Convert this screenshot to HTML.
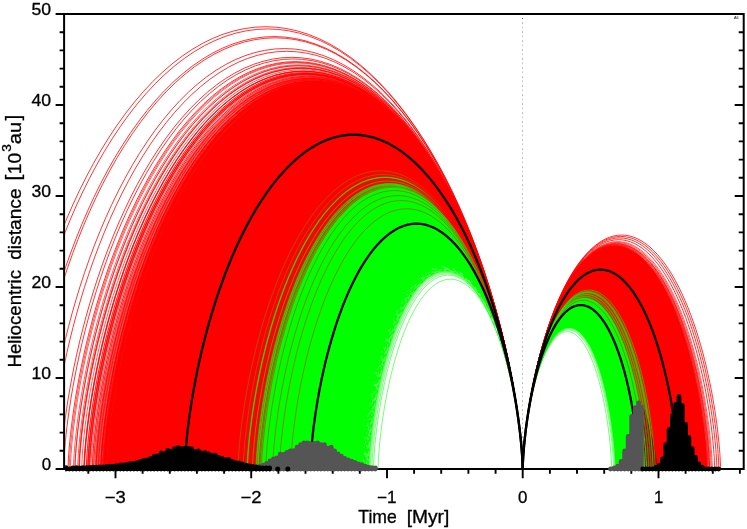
<!DOCTYPE html>
<html lang="en"><head><meta charset="utf-8"><title>Heliocentric distance vs time</title>
<style>html,body{margin:0;padding:0;background:#fff}svg{display:block}</style></head>
<body>
<svg width="747" height="529" viewBox="0 0 747 529">
<defs><path id="c" d="M0.00000,0.00000 0.00001,0.00107 0.00006,0.00428 0.00020,0.00961 0.00047,0.01704 0.00092,0.02653 0.00159,0.03806 0.00252,0.05156 0.00376,0.06699 0.00533,0.08427 0.00728,0.10332 0.00965,0.12408 0.01246,0.14645 0.01576,0.17033 0.01957,0.19562 0.02392,0.22221 0.02883,0.25000 0.03434,0.27886 0.04046,0.30866 0.04721,0.33928 0.05460,0.37059 0.06265,0.40245 0.07137,0.43474 0.08077,0.46730 0.09085,0.50000 0.10160,0.53270 0.11304,0.56526 0.12515,0.59755 0.13793,0.62941 0.15137,0.66072 0.16546,0.69134 0.18017,0.72114 0.19550,0.75000 0.21142,0.77779 0.22790,0.80438 0.24492,0.82967 0.26246,0.85355 0.28048,0.87592 0.29895,0.89668 0.31783,0.91573 0.33709,0.93301 0.35669,0.94844 0.37659,0.96194 0.39676,0.97347 0.41714,0.98296 0.43770,0.99039 0.45839,0.99572 0.47917,0.99893 0.50000,1.00000 0.52083,0.99893 0.54161,0.99572 0.56230,0.99039 0.58286,0.98296 0.60324,0.97347 0.62341,0.96194 0.64331,0.94844 0.66291,0.93301 0.68217,0.91573 0.70105,0.89668 0.71952,0.87592 0.73754,0.85355 0.75508,0.82967 0.77210,0.80438 0.78858,0.77779 0.80450,0.75000 0.81983,0.72114 0.83454,0.69134 0.84863,0.66072 0.86207,0.62941 0.87485,0.59755 0.88696,0.56526 0.89840,0.53270 0.90915,0.50000 0.91923,0.46730 0.92863,0.43474 0.93735,0.40245 0.94540,0.37059 0.95279,0.33928 0.95954,0.30866 0.96566,0.27886 0.97117,0.25000 0.97608,0.22221 0.98043,0.19562 0.98424,0.17033 0.98754,0.14645 0.99035,0.12408 0.99272,0.10332 0.99467,0.08427 0.99624,0.06699 0.99748,0.05156 0.99841,0.03806 0.99908,0.02653 0.99953,0.01704 0.99980,0.00961 0.99994,0.00428 0.99999,0.00107 1.00000,0.00000" vector-effect="non-scaling-stroke"/>
<linearGradient id="fg" gradientUnits="userSpaceOnUse" x1="400" y1="0" x2="446" y2="0"><stop offset="0" stop-color="#fff"/><stop offset="1" stop-color="#000"/></linearGradient>
<mask id="gl" maskUnits="userSpaceOnUse" x="0" y="0" width="747" height="529"><rect width="747" height="529" fill="url(#fg)"/></mask>
<clipPath id="fl"><path d="M643.7,404 L653,441 L657.5,462 L657.5,468 L643.7,468Z"/></clipPath>
<clipPath id="cp"><rect x="65.1" y="15.0" width="677.6" height="458.0"/></clipPath></defs>
<rect width="747" height="529" fill="#fff"/>
<rect x="64.1" y="14.0" width="679.6" height="455.0" fill="none" stroke="#000" stroke-width="2"/>
<path d="M88.3,469.0 v4.8 M115.5,469.0 v9.3 M142.6,469.0 v4.8 M169.8,469.0 v4.8 M196.9,469.0 v4.8 M224.1,469.0 v4.8 M251.2,469.0 v9.3 M278.4,469.0 v4.8 M305.5,469.0 v4.8 M332.7,469.0 v4.8 M359.8,469.0 v4.8 M387.0,469.0 v9.3 M414.1,469.0 v4.8 M441.2,469.0 v4.8 M468.4,469.0 v4.8 M495.6,469.0 v4.8 M522.7,469.0 v9.3 M549.9,469.0 v4.8 M577.0,469.0 v4.8 M604.2,469.0 v4.8 M631.3,469.0 v4.8 M658.5,469.0 v9.3 M685.6,469.0 v4.8 M712.8,469.0 v4.8 M739.9,469.0 v4.8 M64.1,469.0 h-8.5 M64.1,450.8 h-4.5 M743.7,450.8 h-5.0 M64.1,432.6 h-4.5 M743.7,432.6 h-5.0 M64.1,414.4 h-4.5 M743.7,414.4 h-5.0 M64.1,396.2 h-4.5 M743.7,396.2 h-5.0 M64.1,378.0 h-8.5 M743.7,378.0 h-9.0 M64.1,359.8 h-4.5 M743.7,359.8 h-5.0 M64.1,341.6 h-4.5 M743.7,341.6 h-5.0 M64.1,323.4 h-4.5 M743.7,323.4 h-5.0 M64.1,305.2 h-4.5 M743.7,305.2 h-5.0 M64.1,287.0 h-8.5 M743.7,287.0 h-9.0 M64.1,268.8 h-4.5 M743.7,268.8 h-5.0 M64.1,250.6 h-4.5 M743.7,250.6 h-5.0 M64.1,232.4 h-4.5 M743.7,232.4 h-5.0 M64.1,214.2 h-4.5 M743.7,214.2 h-5.0 M64.1,196.0 h-8.5 M743.7,196.0 h-9.0 M64.1,177.8 h-4.5 M743.7,177.8 h-5.0 M64.1,159.6 h-4.5 M743.7,159.6 h-5.0 M64.1,141.4 h-4.5 M743.7,141.4 h-5.0 M64.1,123.2 h-4.5 M743.7,123.2 h-5.0 M64.1,105.0 h-8.5 M743.7,105.0 h-9.0 M64.1,86.8 h-4.5 M743.7,86.8 h-5.0 M64.1,68.6 h-4.5 M743.7,68.6 h-5.0 M64.1,50.4 h-4.5 M743.7,50.4 h-5.0 M64.1,32.2 h-4.5 M743.7,32.2 h-5.0 M64.1,14.0 h-8.5" stroke="#000" stroke-width="1.9" fill="none"/>
<path d="M522.5,18.0 V469.0" stroke="#505050" stroke-width="1" stroke-dasharray="1 3.5" fill="none"/>
<path d="M522.5,22.0 V469.0" stroke="#c4c4c4" stroke-width="1" stroke-dasharray="1.6 2.9" fill="none"/>
<g clip-path="url(#cp)">
<g fill="#f00" stroke="#f00" stroke-width="0.6"><path d="M522.7,469.0 522.7,468.7 522.7,468.0 522.7,466.6 522.6,464.8 522.5,462.5 522.4,459.6 522.2,456.3 521.9,452.5 521.6,448.1 521.1,443.4 520.6,438.1 520.0,432.5 519.3,426.4 518.5,419.9 517.5,413.0 516.5,405.7 515.3,398.1 513.9,390.1 512.4,381.9 510.8,373.3 509.0,364.5 507.0,355.5 504.9,346.2 502.6,336.8 500.1,327.2 497.5,317.5 494.6,307.6 491.6,297.7 488.5,287.7 485.1,277.7 481.6,267.7 477.8,257.7 473.9,247.7 469.9,237.9 465.6,228.2 461.2,218.5 456.6,209.1 451.8,199.9 446.9,190.8 441.8,182.0 436.5,173.5 431.1,165.2 425.6,157.3 419.9,149.6 414.1,142.4 408.1,135.5 402.1,129.0 395.9,122.9 389.6,117.2 383.2,112.0 376.7,107.2 370.2,102.9 363.5,99.1 356.8,95.7 350.1,92.9 343.3,90.5 336.4,88.7 329.6,87.4 322.7,86.6 315.8,86.3 308.9,86.6 302.0,87.4 295.1,88.7 288.3,90.5 281.5,92.9 274.7,95.7 268.0,99.1 261.4,102.9 254.8,107.2 248.4,112.0 242.0,117.2 235.7,122.9 229.5,129.0 223.4,135.5 217.5,142.4 211.6,149.6 206.0,157.3 200.4,165.2 195.0,173.5 189.8,182.0 184.7,190.8 179.7,199.9 175.0,209.1 170.4,218.5 165.9,228.2 161.7,237.9 157.6,247.7 153.7,257.7 150.0,267.7 146.4,277.7 143.1,287.7 139.9,297.7 136.9,307.6 134.1,317.5 131.4,327.2 129.0,336.8 126.7,346.2 124.5,355.5 122.6,364.5 120.8,373.3 119.1,381.9 117.6,390.1 116.3,398.1 115.1,405.7 114.0,413.0 113.1,419.9 112.2,426.4 111.5,432.5 110.9,438.1 110.4,443.4 110.0,448.1 109.6,452.5 109.4,456.3 109.2,459.6 109.0,462.5 108.9,464.8 108.9,466.6 108.9,468.0 108.9,468.7 108.8,469.0 325.9,469.0 325.9,468.8 325.9,468.4 325.9,467.6 325.9,466.5 326.0,465.0 326.0,463.3 326.1,461.3 326.2,458.9 326.4,456.3 326.6,453.4 326.8,450.2 327.1,446.7 327.5,443.0 327.9,439.1 328.3,434.9 328.8,430.4 329.4,425.8 330.0,420.9 330.8,415.9 331.5,410.7 332.4,405.3 333.3,399.8 334.3,394.2 335.4,388.4 336.6,382.6 337.9,376.7 339.2,370.7 340.6,364.6 342.1,358.5 343.7,352.4 345.4,346.3 347.2,340.2 349.1,334.2 351.0,328.2 353.0,322.2 355.1,316.4 357.3,310.6 359.6,305.0 361.9,299.5 364.3,294.1 366.8,288.9 369.4,283.9 372.0,279.1 374.8,274.4 377.5,270.0 380.4,265.8 383.2,261.8 386.2,258.1 389.2,254.6 392.2,251.5 395.3,248.5 398.4,245.9 401.6,243.6 404.8,241.5 408.0,239.8 411.2,238.4 414.5,237.3 417.7,236.5 421.0,236.0 424.3,235.8 427.6,236.0 430.8,236.5 434.1,237.3 437.4,238.4 440.6,239.8 443.8,241.5 447.0,243.6 450.1,245.9 453.3,248.5 456.3,251.5 459.4,254.6 462.4,258.1 465.3,261.8 468.2,265.8 471.0,270.0 473.8,274.4 476.5,279.1 479.2,283.9 481.7,288.9 484.2,294.1 486.6,299.5 489.0,305.0 491.3,310.6 493.4,316.4 495.5,322.2 497.6,328.2 499.5,334.2 501.4,340.2 503.1,346.3 504.8,352.4 506.4,358.5 507.9,364.6 509.4,370.7 510.7,376.7 512.0,382.6 513.1,388.4 514.2,394.2 515.2,399.8 516.2,405.3 517.0,410.7 517.8,415.9 518.5,420.9 519.2,425.8 519.7,430.4 520.2,434.9 520.7,439.1 521.1,443.0 521.4,446.7 521.7,450.2 522.0,453.4 522.2,456.3 522.3,458.9 522.4,461.3 522.5,463.3 522.6,465.0 522.7,466.5 522.7,467.6 522.7,468.4 522.7,468.8 522.7,469.0Z"/><path d="M522.7,469.0 522.7,468.8 522.7,468.4 522.7,467.6 522.7,466.6 522.8,465.2 522.9,463.5 522.9,461.6 523.1,459.4 523.2,456.8 523.4,454.1 523.6,451.0 523.9,447.7 524.2,444.1 524.6,440.3 525.0,436.3 525.5,432.1 526.0,427.6 526.6,423.0 527.3,418.2 528.0,413.2 528.8,408.1 529.7,402.8 530.6,397.4 531.7,391.9 532.8,386.3 533.9,380.6 535.2,374.9 536.5,369.1 537.9,363.3 539.4,357.4 541.0,351.6 542.7,345.8 544.4,340.0 546.2,334.2 548.1,328.6 550.1,323.0 552.1,317.5 554.3,312.1 556.5,306.8 558.7,301.7 561.1,296.7 563.5,291.9 565.9,287.2 568.5,282.8 571.1,278.5 573.7,274.5 576.4,270.7 579.2,267.2 582.0,263.9 584.8,260.8 587.7,258.0 590.6,255.5 593.6,253.3 596.6,251.3 599.6,249.7 602.6,248.3 605.6,247.2 608.7,246.5 611.8,246.0 614.8,245.9 617.9,246.0 621.0,246.5 624.0,247.2 627.1,248.3 630.1,249.7 633.1,251.3 636.1,253.3 639.1,255.5 642.0,258.0 644.9,260.8 647.7,263.9 650.5,267.2 653.3,270.7 656.0,274.5 658.6,278.5 661.2,282.8 663.7,287.2 666.2,291.9 668.6,296.7 671.0,301.7 673.2,306.8 675.4,312.1 677.5,317.5 679.6,323.0 681.6,328.6 683.5,334.2 685.3,340.0 687.0,345.8 688.7,351.6 690.2,357.4 691.7,363.3 693.1,369.1 694.5,374.9 695.7,380.6 696.9,386.3 698.0,391.9 699.0,397.4 700.0,402.8 700.9,408.1 701.7,413.2 702.4,418.2 703.1,423.0 703.7,427.6 704.2,432.1 704.7,436.3 705.1,440.3 705.5,444.1 705.8,447.7 706.1,451.0 706.3,454.1 706.5,456.8 706.6,459.4 706.7,461.6 706.8,463.5 706.9,465.2 706.9,466.6 707.0,467.6 707.0,468.4 707.0,468.8 707.0,469.0 631.3,469.0 631.3,468.9 631.3,468.6 631.3,468.0 631.3,467.3 631.2,466.3 631.2,465.2 631.2,463.8 631.1,462.2 631.0,460.5 630.9,458.5 630.8,456.3 630.6,454.0 630.4,451.5 630.2,448.9 629.9,446.0 629.7,443.1 629.3,439.9 629.0,436.7 628.6,433.3 628.2,429.8 627.7,426.2 627.2,422.5 626.6,418.7 626.0,414.8 625.4,410.9 624.7,406.9 623.9,402.8 623.1,398.8 622.3,394.7 621.4,390.6 620.5,386.5 619.5,382.4 618.5,378.3 617.4,374.3 616.3,370.3 615.2,366.3 614.0,362.5 612.7,358.7 611.4,355.0 610.1,351.4 608.7,347.9 607.3,344.5 605.8,341.2 604.3,338.1 602.8,335.1 601.2,332.3 599.6,329.6 598.0,327.1 596.4,324.8 594.7,322.7 593.0,320.7 591.3,318.9 589.5,317.4 587.8,316.0 586.0,314.8 584.2,313.9 582.4,313.1 580.6,312.6 578.8,312.3 577.0,312.2 575.2,312.3 573.4,312.6 571.6,313.1 569.8,313.9 568.0,314.8 566.2,316.0 564.5,317.4 562.7,318.9 561.0,320.7 559.3,322.7 557.6,324.8 556.0,327.1 554.4,329.6 552.8,332.3 551.2,335.1 549.7,338.1 548.2,341.2 546.7,344.5 545.3,347.9 543.9,351.4 542.6,355.0 541.3,358.7 540.0,362.5 538.8,366.3 537.7,370.3 536.6,374.3 535.5,378.3 534.5,382.4 533.5,386.5 532.6,390.6 531.7,394.7 530.9,398.8 530.1,402.8 529.3,406.9 528.6,410.9 528.0,414.8 527.4,418.7 526.8,422.5 526.3,426.2 525.8,429.8 525.4,433.3 525.0,436.7 524.7,439.9 524.3,443.1 524.1,446.0 523.8,448.9 523.6,451.5 523.4,454.0 523.2,456.3 523.1,458.5 523.0,460.5 522.9,462.2 522.8,463.8 522.8,465.2 522.8,466.3 522.7,467.3 522.7,468.0 522.7,468.6 522.7,468.9 522.7,469.0Z"/></g>
<g fill="none" stroke="#f00" stroke-width="0.65"><use href="#c" transform="matrix(-411.79 0 0 -381.38 522.7 469)"/><use href="#c" transform="matrix(-411.83 0 0 -381.41 522.7 469)"/><use href="#c" transform="matrix(-412.27 0 0 -381.68 522.7 469)"/><use href="#c" transform="matrix(-412.72 0 0 -381.95 522.7 469)"/><use href="#c" transform="matrix(-412.83 0 0 -382.03 522.7 469)"/><use href="#c" transform="matrix(-413.03 0 0 -382.15 522.7 469)"/><use href="#c" transform="matrix(-413.08 0 0 -382.18 522.7 469)"/><use href="#c" transform="matrix(-413.13 0 0 -382.21 522.7 469)"/><use href="#c" transform="matrix(-413.19 0 0 -382.25 522.7 469)"/><use href="#c" transform="matrix(-413.42 0 0 -382.39 522.7 469)"/><use href="#c" transform="matrix(-413.46 0 0 -382.42 522.7 469)"/><use href="#c" transform="matrix(-413.95 0 0 -382.71 522.7 469)"/><use href="#c" transform="matrix(-413.96 0 0 -382.72 522.7 469)"/><use href="#c" transform="matrix(-414.00 0 0 -382.75 522.7 469)"/><use href="#c" transform="matrix(-414.02 0 0 -382.76 522.7 469)"/><use href="#c" transform="matrix(-414.32 0 0 -382.94 522.7 469)"/><use href="#c" transform="matrix(-414.41 0 0 -383.00 522.7 469)"/><use href="#c" transform="matrix(-414.54 0 0 -383.08 522.7 469)"/><use href="#c" transform="matrix(-414.62 0 0 -383.13 522.7 469)"/><use href="#c" transform="matrix(-414.83 0 0 -383.26 522.7 469)"/><use href="#c" transform="matrix(-414.94 0 0 -383.33 522.7 469)"/><use href="#c" transform="matrix(-414.99 0 0 -383.36 522.7 469)"/><use href="#c" transform="matrix(-415.11 0 0 -383.43 522.7 469)"/><use href="#c" transform="matrix(-415.19 0 0 -383.48 522.7 469)"/><use href="#c" transform="matrix(-415.21 0 0 -383.49 522.7 469)"/><use href="#c" transform="matrix(-415.58 0 0 -383.72 522.7 469)"/><use href="#c" transform="matrix(-415.83 0 0 -383.88 522.7 469)"/><use href="#c" transform="matrix(-416.08 0 0 -384.03 522.7 469)"/><use href="#c" transform="matrix(-416.56 0 0 -384.32 522.7 469)"/><use href="#c" transform="matrix(-416.68 0 0 -384.39 522.7 469)"/><use href="#c" transform="matrix(-416.79 0 0 -384.46 522.7 469)"/><use href="#c" transform="matrix(-416.92 0 0 -384.54 522.7 469)"/><use href="#c" transform="matrix(-417.04 0 0 -384.62 522.7 469)"/><use href="#c" transform="matrix(-417.31 0 0 -384.78 522.7 469)"/><use href="#c" transform="matrix(-417.31 0 0 -384.78 522.7 469)"/><use href="#c" transform="matrix(-417.46 0 0 -384.88 522.7 469)"/><use href="#c" transform="matrix(-417.65 0 0 -384.99 522.7 469)"/><use href="#c" transform="matrix(-417.75 0 0 -385.06 522.7 469)"/><use href="#c" transform="matrix(-417.76 0 0 -385.06 522.7 469)"/><use href="#c" transform="matrix(-418.06 0 0 -385.25 522.7 469)"/><use href="#c" transform="matrix(-418.06 0 0 -385.25 522.7 469)"/><use href="#c" transform="matrix(-418.28 0 0 -385.38 522.7 469)"/><use href="#c" transform="matrix(-418.32 0 0 -385.40 522.7 469)"/><use href="#c" transform="matrix(-418.33 0 0 -385.41 522.7 469)"/><use href="#c" transform="matrix(-418.38 0 0 -385.44 522.7 469)"/><use href="#c" transform="matrix(-418.40 0 0 -385.45 522.7 469)"/><use href="#c" transform="matrix(-418.44 0 0 -385.48 522.7 469)"/><use href="#c" transform="matrix(-418.74 0 0 -385.66 522.7 469)"/><use href="#c" transform="matrix(-419.09 0 0 -385.87 522.7 469)"/><use href="#c" transform="matrix(-419.21 0 0 -385.95 522.7 469)"/><use href="#c" transform="matrix(-419.49 0 0 -386.13 522.7 469)"/><use href="#c" transform="matrix(-419.67 0 0 -386.24 522.7 469)"/><use href="#c" transform="matrix(-419.87 0 0 -386.35 522.7 469)"/><use href="#c" transform="matrix(-420.46 0 0 -386.72 522.7 469)"/><use href="#c" transform="matrix(-420.57 0 0 -386.78 522.7 469)"/><use href="#c" transform="matrix(-421.17 0 0 -387.15 522.7 469)"/><use href="#c" transform="matrix(-421.53 0 0 -387.37 522.7 469)"/><use href="#c" transform="matrix(-421.89 0 0 -387.59 522.7 469)"/><use href="#c" transform="matrix(-421.89 0 0 -387.59 522.7 469)"/><use href="#c" transform="matrix(-421.92 0 0 -387.61 522.7 469)"/><use href="#c" transform="matrix(-421.93 0 0 -387.62 522.7 469)"/><use href="#c" transform="matrix(-422.06 0 0 -387.70 522.7 469)"/><use href="#c" transform="matrix(-422.87 0 0 -388.19 522.7 469)"/><use href="#c" transform="matrix(-423.58 0 0 -388.63 522.7 469)"/><use href="#c" transform="matrix(-424.22 0 0 -389.02 522.7 469)"/><use href="#c" transform="matrix(-424.27 0 0 -389.05 522.7 469)"/><use href="#c" transform="matrix(-424.72 0 0 -389.32 522.7 469)"/><use href="#c" transform="matrix(-425.28 0 0 -389.67 522.7 469)"/><use href="#c" transform="matrix(-425.93 0 0 -390.06 522.7 469)"/><use href="#c" transform="matrix(-426.56 0 0 -390.45 522.7 469)"/><use href="#c" transform="matrix(-426.63 0 0 -390.49 522.7 469)"/><use href="#c" transform="matrix(-426.71 0 0 -390.54 522.7 469)"/><use href="#c" transform="matrix(-427.38 0 0 -390.95 522.7 469)"/><use href="#c" transform="matrix(-427.97 0 0 -391.31 522.7 469)"/><use href="#c" transform="matrix(-428.99 0 0 -391.93 522.7 469)"/><use href="#c" transform="matrix(-429.28 0 0 -392.11 522.7 469)"/><use href="#c" transform="matrix(-430.37 0 0 -392.77 522.7 469)"/><use href="#c" transform="matrix(-430.45 0 0 -392.82 522.7 469)"/><use href="#c" transform="matrix(-431.77 0 0 -393.62 522.7 469)"/><use href="#c" transform="matrix(-433.01 0 0 -394.37 522.7 469)"/><use href="#c" transform="matrix(-433.26 0 0 -394.53 522.7 469)"/><use href="#c" transform="matrix(-433.30 0 0 -394.55 522.7 469)"/><use href="#c" transform="matrix(-433.80 0 0 -394.86 522.7 469)"/><use href="#c" transform="matrix(-434.56 0 0 -395.31 522.7 469)"/><use href="#c" transform="matrix(-434.85 0 0 -395.49 522.7 469)"/><use href="#c" transform="matrix(-434.89 0 0 -395.51 522.7 469)"/><use href="#c" transform="matrix(-435.11 0 0 -395.65 522.7 469)"/><use href="#c" transform="matrix(-436.33 0 0 -396.39 522.7 469)"/><use href="#c" transform="matrix(-436.40 0 0 -396.43 522.7 469)"/><use href="#c" transform="matrix(-438.28 0 0 -397.57 522.7 469)"/><use href="#c" transform="matrix(-438.52 0 0 -397.71 522.7 469)"/><use href="#c" transform="matrix(-438.71 0 0 -397.83 522.7 469)"/><use href="#c" transform="matrix(-438.81 0 0 -397.89 522.7 469)"/><use href="#c" transform="matrix(-440.98 0 0 -399.20 522.7 469)"/><use href="#c" transform="matrix(-443.25 0 0 -400.57 522.7 469)"/><use href="#c" transform="matrix(-443.68 0 0 -400.83 522.7 469)"/><use href="#c" transform="matrix(-443.80 0 0 -400.90 522.7 469)"/><use href="#c" transform="matrix(-445.03 0 0 -401.64 522.7 469)"/><use href="#c" transform="matrix(-447.75 0 0 -403.27 522.7 469)"/><use href="#c" transform="matrix(-447.76 0 0 -403.28 522.7 469)"/><use href="#c" transform="matrix(-449.23 0 0 -404.16 522.7 469)"/><use href="#c" transform="matrix(-452.32 0 0 -406.01 522.7 469)"/><use href="#c" transform="matrix(-453.48 0 0 -406.71 522.7 469)"/><use href="#c" transform="matrix(183.56 0 0 -222.55 522.7 469)"/><use href="#c" transform="matrix(183.98 0 0 -222.89 522.7 469)"/><use href="#c" transform="matrix(184.07 0 0 -222.96 522.7 469)"/><use href="#c" transform="matrix(184.69 0 0 -223.46 522.7 469)"/><use href="#c" transform="matrix(185.22 0 0 -223.89 522.7 469)"/><use href="#c" transform="matrix(185.52 0 0 -224.14 522.7 469)"/><use href="#c" transform="matrix(186.18 0 0 -224.66 522.7 469)"/><use href="#c" transform="matrix(186.84 0 0 -225.19 522.7 469)"/><use href="#c" transform="matrix(186.88 0 0 -225.23 522.7 469)"/><use href="#c" transform="matrix(187.58 0 0 -225.79 522.7 469)"/><use href="#c" transform="matrix(188.62 0 0 -226.62 522.7 469)"/><use href="#c" transform="matrix(189.62 0 0 -227.42 522.7 469)"/></g>
<g fill="none" stroke="#f00" stroke-width="0.8"><use href="#c" transform="matrix(-514.22 0 0 -442.26 522.7 469)"/><use href="#c" transform="matrix(-510.42 0 0 -440.08 522.7 469)"/><use href="#c" transform="matrix(-497.18 0 0 -432.43 522.7 469)"/><use href="#c" transform="matrix(-494.98 0 0 -431.16 522.7 469)"/><use href="#c" transform="matrix(-476.60 0 0 -420.42 522.7 469)"/><use href="#c" transform="matrix(-471.97 0 0 -417.69 522.7 469)"/><use href="#c" transform="matrix(-461.83 0 0 -411.68 522.7 469)"/><use href="#c" transform="matrix(-459.07 0 0 -410.05 522.7 469)"/><use href="#c" transform="matrix(-454.65 0 0 -407.41 522.7 469)"/><use href="#c" transform="matrix(192.00 0 0 -229.32 522.7 469)"/><use href="#c" transform="matrix(194.17 0 0 -231.05 522.7 469)"/><use href="#c" transform="matrix(196.13 0 0 -232.60 522.7 469)"/><use href="#c" transform="matrix(197.86 0 0 -233.96 522.7 469)"/></g>
<g fill="#0f0" stroke="#0f0" stroke-width="0.6"><path d="M522.7,469.0 522.7,468.8 522.7,468.2 522.7,467.3 522.6,465.9 522.6,464.2 522.5,462.1 522.4,459.7 522.2,456.8 522.0,453.7 521.7,450.2 521.4,446.3 521.0,442.1 520.6,437.7 520.0,432.9 519.5,427.8 518.8,422.5 518.0,416.9 517.2,411.0 516.2,405.0 515.2,398.7 514.0,392.2 512.8,385.6 511.5,378.8 510.0,371.9 508.5,364.8 506.8,357.6 505.0,350.4 503.1,343.1 501.1,335.8 499.0,328.4 496.8,321.0 494.4,313.7 492.0,306.4 489.4,299.2 486.7,292.0 484.0,285.0 481.1,278.0 478.1,271.2 474.9,264.6 471.7,258.1 468.4,251.8 465.0,245.8 461.5,239.9 457.9,234.3 454.3,229.0 450.5,223.9 446.7,219.1 442.8,214.7 438.8,210.5 434.8,206.6 430.7,203.1 426.6,200.0 422.4,197.1 418.2,194.7 414.0,192.6 409.7,190.9 405.4,189.5 401.0,188.6 396.7,188.0 392.4,187.8 388.0,188.0 383.7,188.6 379.3,189.5 375.0,190.9 370.8,192.6 366.5,194.7 362.3,197.1 358.1,200.0 354.0,203.1 349.9,206.6 345.9,210.5 341.9,214.7 338.0,219.1 334.2,223.9 330.4,229.0 326.8,234.3 323.2,239.9 319.7,245.8 316.3,251.8 313.0,258.1 309.8,264.6 306.7,271.2 303.7,278.0 300.8,285.0 298.0,292.0 295.3,299.2 292.7,306.4 290.3,313.7 287.9,321.0 285.7,328.4 283.6,335.8 281.6,343.1 279.7,350.4 277.9,357.6 276.2,364.8 274.7,371.9 273.2,378.8 271.9,385.6 270.7,392.2 269.5,398.7 268.5,405.0 267.5,411.0 266.7,416.9 265.9,422.5 265.3,427.8 264.7,432.9 264.1,437.7 263.7,442.1 263.3,446.3 263.0,450.2 262.7,453.7 262.5,456.8 262.3,459.7 262.2,462.1 262.1,464.2 262.1,465.9 262.0,467.3 262.0,468.2 262.0,468.8 262.0,469.0 368.7,469.0 368.7,468.9 368.8,468.5 368.8,467.8 368.8,466.8 368.8,465.6 368.9,464.2 368.9,462.4 369.0,460.4 369.2,458.2 369.3,455.7 369.5,453.0 369.7,450.1 370.0,446.9 370.3,443.6 370.7,440.0 371.1,436.3 371.5,432.3 372.0,428.2 372.6,423.9 373.2,419.5 373.9,415.0 374.6,410.3 375.4,405.5 376.2,400.6 377.2,395.7 378.1,390.6 379.2,385.5 380.3,380.4 381.5,375.2 382.7,370.0 384.1,364.9 385.4,359.7 386.9,354.6 388.4,349.5 390.0,344.4 391.6,339.5 393.3,334.6 395.1,329.8 397.0,325.1 398.8,320.6 400.8,316.1 402.8,311.9 404.9,307.8 407.0,303.8 409.2,300.1 411.4,296.5 413.6,293.1 415.9,290.0 418.3,287.0 420.6,284.3 423.1,281.9 425.5,279.6 428.0,277.6 430.5,275.9 433.0,274.4 435.5,273.2 438.0,272.3 440.6,271.6 443.2,271.2 445.7,271.1 448.3,271.2 450.9,271.6 453.4,272.3 456.0,273.2 458.5,274.4 461.0,275.9 463.5,277.6 466.0,279.6 468.4,281.9 470.8,284.3 473.2,287.0 475.5,290.0 477.8,293.1 480.1,296.5 482.3,300.1 484.5,303.8 486.6,307.8 488.6,311.9 490.6,316.1 492.6,320.6 494.5,325.1 496.3,329.8 498.1,334.6 499.8,339.5 501.5,344.4 503.0,349.5 504.6,354.6 506.0,359.7 507.4,364.9 508.7,370.0 510.0,375.2 511.1,380.4 512.3,385.5 513.3,390.6 514.3,395.7 515.2,400.6 516.1,405.5 516.9,410.3 517.6,415.0 518.3,419.5 518.9,423.9 519.4,428.2 519.9,432.3 520.4,436.3 520.8,440.0 521.1,443.6 521.4,446.9 521.7,450.1 521.9,453.0 522.1,455.7 522.3,458.2 522.4,460.4 522.5,462.4 522.6,464.2 522.6,465.6 522.7,466.8 522.7,467.8 522.7,468.5 522.7,468.9 522.7,469.0Z"/><path d="M522.7,469.0 522.7,468.9 522.7,468.5 522.7,467.9 522.7,467.1 522.8,466.1 522.8,464.8 522.9,463.3 522.9,461.6 523.0,459.7 523.2,457.5 523.3,455.2 523.5,452.7 523.7,449.9 524.0,447.0 524.2,443.9 524.6,440.7 524.9,437.3 525.3,433.7 525.8,430.0 526.3,426.2 526.8,422.3 527.4,418.3 528.0,414.1 528.7,409.9 529.5,405.6 530.2,401.2 531.1,396.8 532.0,392.4 532.9,387.9 533.9,383.5 535.0,379.0 536.1,374.5 537.3,370.1 538.5,365.7 539.8,361.3 541.1,357.0 542.5,352.8 543.9,348.7 545.4,344.6 546.9,340.7 548.5,336.9 550.1,333.2 551.7,329.6 553.4,326.2 555.2,323.0 556.9,319.9 558.8,317.0 560.6,314.3 562.5,311.7 564.4,309.4 566.3,307.2 568.3,305.3 570.3,303.6 572.3,302.1 574.3,300.8 576.3,299.8 578.4,299.0 580.4,298.4 582.5,298.0 584.6,297.9 586.6,298.0 588.7,298.4 590.7,299.0 592.8,299.8 594.8,300.8 596.8,302.1 598.8,303.6 600.8,305.3 602.8,307.2 604.7,309.4 606.6,311.7 608.5,314.3 610.4,317.0 612.2,319.9 613.9,323.0 615.7,326.2 617.4,329.6 619.0,333.2 620.7,336.9 622.2,340.7 623.8,344.6 625.2,348.7 626.7,352.8 628.0,357.0 629.4,361.3 630.6,365.7 631.8,370.1 633.0,374.5 634.1,379.0 635.2,383.5 636.2,387.9 637.1,392.4 638.0,396.8 638.9,401.2 639.7,405.6 640.4,409.9 641.1,414.1 641.7,418.3 642.3,422.3 642.9,426.2 643.3,430.0 643.8,433.7 644.2,437.3 644.6,440.7 644.9,443.9 645.2,447.0 645.4,449.9 645.6,452.7 645.8,455.2 646.0,457.5 646.1,459.7 646.2,461.6 646.3,463.3 646.3,464.8 646.4,466.1 646.4,467.1 646.4,467.9 646.4,468.5 646.4,468.9 646.4,469.0 615.3,469.0 615.3,468.9 615.3,468.6 615.3,468.1 615.3,467.5 615.3,466.6 615.2,465.5 615.2,464.3 615.1,462.9 615.1,461.3 615.0,459.6 614.9,457.6 614.7,455.5 614.6,453.3 614.4,450.9 614.2,448.3 613.9,445.7 613.7,442.9 613.4,439.9 613.0,436.9 612.6,433.7 612.2,430.5 611.8,427.2 611.3,423.7 610.8,420.3 610.3,416.7 609.7,413.1 609.0,409.5 608.4,405.8 607.7,402.2 606.9,398.5 606.1,394.8 605.3,391.1 604.4,387.4 603.5,383.8 602.5,380.2 601.6,376.7 600.5,373.2 599.5,369.8 598.4,366.5 597.2,363.2 596.0,360.1 594.8,357.0 593.6,354.1 592.3,351.3 591.0,348.6 589.7,346.1 588.3,343.7 586.9,341.4 585.5,339.3 584.1,337.4 582.6,335.6 581.2,334.0 579.7,332.6 578.2,331.4 576.7,330.4 575.2,329.5 573.6,328.8 572.1,328.3 570.6,328.0 569.0,328.0 567.5,328.0 565.9,328.3 564.4,328.8 562.9,329.5 561.3,330.4 559.8,331.4 558.3,332.6 556.8,334.0 555.4,335.6 553.9,337.4 552.5,339.3 551.1,341.4 549.7,343.7 548.3,346.1 547.0,348.6 545.7,351.3 544.4,354.1 543.2,357.0 542.0,360.1 540.8,363.2 539.7,366.5 538.6,369.8 537.5,373.2 536.5,376.7 535.5,380.2 534.5,383.8 533.6,387.4 532.7,391.1 531.9,394.8 531.1,398.5 530.4,402.2 529.7,405.8 529.0,409.5 528.3,413.1 527.8,416.7 527.2,420.3 526.7,423.7 526.2,427.2 525.8,430.5 525.4,433.7 525.0,436.9 524.7,439.9 524.4,442.9 524.1,445.7 523.9,448.3 523.6,450.9 523.5,453.3 523.3,455.5 523.2,457.6 523.0,459.6 523.0,461.3 522.9,462.9 522.8,464.3 522.8,465.5 522.7,466.6 522.7,467.5 522.7,468.1 522.7,468.6 522.7,468.9 522.7,469.0Z"/></g>
<g fill="none" stroke="#0f0" stroke-width="0.55"><use href="#c" transform="matrix(-144.60 0 0 -189.83 522.7 469)"/><use href="#c" transform="matrix(-149.20 0 0 -193.83 522.7 469)"/><use href="#c" transform="matrix(-150.78 0 0 -195.19 522.7 469)"/><use href="#c" transform="matrix(-152.36 0 0 -196.56 522.7 469)"/><use href="#c" transform="matrix(-153.42 0 0 -197.47 522.7 469)"/><use href="#c" transform="matrix(88.97 0 0 -137.32 522.7 469)"/><use href="#c" transform="matrix(90.83 0 0 -139.23 522.7 469)"/><use href="#c" transform="matrix(91.90 0 0 -140.32 522.7 469)"/><use href="#c" transform="matrix(124.99 0 0 -172.25 522.7 469)"/><use href="#c" transform="matrix(127.07 0 0 -174.16 522.7 469)"/><use href="#c" transform="matrix(129.11 0 0 -176.02 522.7 469)"/><use href="#c" transform="matrix(129.72 0 0 -176.57 522.7 469)"/><use href="#c" transform="matrix(130.78 0 0 -177.53 522.7 469)"/><use href="#c" transform="matrix(132.30 0 0 -178.91 522.7 469)"/><use href="#c" transform="matrix(130.09 0 0 -176.90 522.7 469)"/><use href="#c" transform="matrix(127.69 0 0 -174.72 522.7 469)"/><use href="#c" transform="matrix(125.70 0 0 -172.90 522.7 469)"/></g>
<g mask="url(#gl)"><g fill="none" stroke="#0f0" stroke-width="0.55"><use href="#c" transform="matrix(-261.64 0 0 -281.87 522.7 469)"/><use href="#c" transform="matrix(-262.12 0 0 -282.21 522.7 469)"/><use href="#c" transform="matrix(-263.18 0 0 -282.97 522.7 469)"/><use href="#c" transform="matrix(-264.45 0 0 -283.88 522.7 469)"/><use href="#c" transform="matrix(-264.72 0 0 -284.08 522.7 469)"/><use href="#c" transform="matrix(-264.81 0 0 -284.14 522.7 469)"/><use href="#c" transform="matrix(-265.91 0 0 -284.93 522.7 469)"/><use href="#c" transform="matrix(-266.09 0 0 -285.06 522.7 469)"/><use href="#c" transform="matrix(-266.77 0 0 -285.54 522.7 469)"/><use href="#c" transform="matrix(-270.16 0 0 -287.96 522.7 469)"/><use href="#c" transform="matrix(-275.12 0 0 -291.47 522.7 469)"/><use href="#c" transform="matrix(-275.71 0 0 -291.88 522.7 469)"/><use href="#c" transform="matrix(-275.38 0 0 -291.65 522.7 469)"/></g>
<g fill="none" stroke="#0f0" stroke-width="0.3"><use href="#c" transform="matrix(-284.71 0 0 -298.21 522.7 469)"/><use href="#c" transform="matrix(-279.52 0 0 -294.57 522.7 469)"/></g></g>
<g fill="none" stroke="#e02000" stroke-width="0.5"><use href="#c" transform="matrix(-232.14 0 0 -260.26 522.7 469)"/><use href="#c" transform="matrix(-243.18 0 0 -268.45 522.7 469)"/><use href="#c" transform="matrix(-250.01 0 0 -273.45 522.7 469)"/><use href="#c" transform="matrix(-256.91 0 0 -278.46 522.7 469)"/><use href="#c" transform="matrix(121.26 0 0 -168.81 522.7 469)"/></g>
<g fill="none" stroke="#fff" stroke-width="0.4"><use stroke-dasharray="5 3 2 4 7 3" stroke-dashoffset="0" href="#c" transform="matrix(-155.01 0 0 -198.84 522.7 469)"/><use stroke-dasharray="3 5 6 2 2 6" stroke-dashoffset="3" href="#c" transform="matrix(-156.08 0 0 -199.74 522.7 469)"/><use stroke-dasharray="2 6 4 7 3 5" stroke-dashoffset="1" href="#c" transform="matrix(-157.47 0 0 -200.93 522.7 469)"/><use stroke-dasharray="2 9 3 6 1 8" stroke-dashoffset="5" href="#c" transform="matrix(-158.75 0 0 -202.02 522.7 469)"/><use stroke-dasharray="1 11 2 8" stroke-dashoffset="2" href="#c" transform="matrix(-159.83 0 0 -202.93 522.7 469)"/></g>
<g clip-path="url(#fl)" fill="none" stroke="#6a1a1a" stroke-width="1"><use href="#c" transform="matrix(122.85 0 0 -170.28 522.7 469)"/><use href="#c" transform="matrix(125.03 0 0 -172.28 522.7 469)"/><use href="#c" transform="matrix(127.20 0 0 -174.27 522.7 469)"/><use href="#c" transform="matrix(129.37 0 0 -176.25 522.7 469)"/><use href="#c" transform="matrix(131.54 0 0 -178.22 522.7 469)"/><use href="#c" transform="matrix(133.71 0 0 -180.18 522.7 469)"/><use href="#c" transform="matrix(135.61 0 0 -181.88 522.7 469)"/></g>
<g fill="none" stroke="#000" stroke-width="2.3"><use href="#c" transform="matrix(-338.02 0 0 -334.35 522.7 469)"/><use href="#c" transform="matrix(-212.45 0 0 -245.33 522.7 469)"/><use href="#c" transform="matrix(155.71 0 0 -199.43 522.7 469)"/><use href="#c" transform="matrix(116.07 0 0 -163.95 522.7 469)"/></g>
<g fill="none" stroke-width="4.8" stroke-linecap="round">
<path d="M256.5,467.6 v1.4 M259.9,466.2 v2.8 M263.3,465.1 v3.9 M266.7,463.3 v5.7 M270.1,460.9 v8.1 M273.5,458.9 v10.1 M276.9,457.9 v11.1 M280.3,454.1 v14.9 M283.7,454.5 v14.5 M287.0,452.3 v16.7 M290.4,451.0 v18.0 M293.8,450.6 v18.4 M297.2,447.1 v21.9 M300.6,444.6 v24.4 M304.0,442.8 v26.2 M307.4,443.0 v26.0 M310.8,443.6 v25.4 M314.2,443.3 v25.7 M317.6,442.9 v26.1 M321.0,444.6 v24.4 M324.4,444.7 v24.3 M327.8,448.2 v20.8 M331.2,447.1 v21.9 M334.6,450.9 v18.1 M338.0,453.8 v15.2 M341.3,456.1 v12.9 M344.7,458.4 v10.6 M348.1,460.0 v9.0 M351.5,461.2 v7.8 M354.9,462.5 v6.5 M358.3,463.9 v5.1 M361.7,464.6 v4.4 M365.1,466.2 v2.8 M368.5,467.1 v1.9 M371.9,467.7 v1.3 M375.3,467.8 v1.2" stroke="#555"/>
<path d="M66.0,467.7 v1.3 M69.4,469.0 v0.0 M72.8,467.9 v1.1 M76.2,467.6 v1.4 M79.6,467.9 v1.1 M83.0,467.6 v1.4 M86.4,467.7 v1.3 M89.8,467.5 v1.5 M93.1,467.2 v1.8 M96.5,467.1 v1.9 M99.9,467.0 v2.0 M103.3,466.9 v2.1 M106.7,466.5 v2.5 M110.1,466.2 v2.8 M113.5,466.2 v2.8 M116.9,465.6 v3.4 M120.3,465.0 v4.0 M123.7,464.8 v4.2 M127.1,464.3 v4.7 M130.5,463.4 v5.6 M133.9,463.4 v5.6 M137.3,462.3 v6.7 M140.7,461.4 v7.6 M144.1,460.1 v8.9 M147.5,459.8 v9.2 M150.8,458.4 v10.6 M154.2,456.1 v12.9 M157.6,455.9 v13.1 M161.0,453.0 v16.0 M164.4,453.5 v15.5 M167.8,450.5 v18.5 M171.2,451.1 v17.9 M174.6,448.6 v20.4 M178.0,447.7 v21.3 M181.4,448.5 v20.5 M184.8,448.5 v20.5 M188.2,448.3 v20.7 M191.6,448.7 v20.3 M195.0,451.3 v17.7 M198.4,451.0 v18.0 M201.8,452.8 v16.2 M205.1,452.6 v16.4 M208.5,454.0 v15.0 M211.9,455.1 v13.9 M215.3,455.1 v13.9 M218.7,457.4 v11.6 M222.1,458.3 v10.7 M225.5,459.7 v9.3 M228.9,459.3 v9.7 M232.3,461.3 v7.7 M235.7,462.6 v6.4 M239.1,462.9 v6.1 M242.5,463.9 v5.1 M245.9,465.1 v3.9 M249.3,465.9 v3.1 M252.7,466.4 v2.6 M256.1,466.9 v2.1 M259.4,467.6 v1.4 M262.8,467.8 v1.2 M266.2,467.9 v1.1 M269.6,467.8 v1.2" stroke="#000"/>
<g fill="#000" stroke="none"><circle cx="277.7" cy="469" r="2.5"/><circle cx="287.8" cy="469" r="2.5"/></g>
<path d="M610.5,469.0 v0.0 M614.2,467.8 v1.2 M617.7,466.2 v2.8 M621.2,461.4 v7.6 M624.7,451.0 v18.0 M628.2,436.5 v32.5 M631.7,416.5 v52.5 M635.2,407.7 v61.3 M638.7,402.8 v66.2 M641.3,407.4 v61.6" stroke="#555"/>
<path d="M642.7,469.0 v0.0 M646.0,469.0 v0.0 M649.3,469.0 v0.0 M652.6,469.0 v0.0 M655.9,467.4 v1.6 M659.2,465.4 v3.6 M662.5,459.0 v10.0 M665.8,444.6 v24.4 M669.1,429.4 v39.6 M672.4,415.7 v53.3 M675.7,404.4 v64.6 M679.0,396.4 v72.6 M682.3,405.4 v63.6 M685.6,424.4 v44.6 M688.9,437.4 v31.6 M692.2,448.6 v20.4 M695.5,457.4 v11.6 M698.8,463.8 v5.2 M702.1,467.2 v1.8 M705.4,469.0 v0.0 M708.7,469.0 v0.0 M712.0,469.0 v0.0 M715.3,469.0 v0.0 M718.6,469.0 v0.0" stroke="#000"/>
</g>
</g>
<g fill="#000" stroke="#000" stroke-width="0.3" font-family="'Liberation Sans', sans-serif"><text x="51.1" y="469.7" text-anchor="end" font-size="16.5" textLength="9.4" lengthAdjust="spacingAndGlyphs">0</text><text x="51.1" y="378.7" text-anchor="end" font-size="16.5" textLength="19.6" lengthAdjust="spacingAndGlyphs">10</text><text x="51.1" y="287.7" text-anchor="end" font-size="16.5" textLength="19.6" lengthAdjust="spacingAndGlyphs">20</text><text x="51.1" y="196.7" text-anchor="end" font-size="16.5" textLength="19.6" lengthAdjust="spacingAndGlyphs">30</text><text x="51.1" y="105.7" text-anchor="end" font-size="16.5" textLength="19.6" lengthAdjust="spacingAndGlyphs">40</text><text x="51.1" y="14.7" text-anchor="end" font-size="16.5" textLength="19.6" lengthAdjust="spacingAndGlyphs">50</text><text x="104.7" y="502.9" font-size="16.5" textLength="21.0" lengthAdjust="spacingAndGlyphs">−3</text><text x="240.4" y="502.9" font-size="16.5" textLength="21.0" lengthAdjust="spacingAndGlyphs">−2</text><text x="376.9" y="502.9" font-size="16.5" textLength="19.5" lengthAdjust="spacingAndGlyphs">−1</text><text x="518.0" y="502.9" font-size="16.5" textLength="9.4" lengthAdjust="spacingAndGlyphs">0</text><text x="653.9" y="502.9" font-size="16.5" textLength="9.2" lengthAdjust="spacingAndGlyphs">1</text><text x="358.3" y="523.2" font-size="17.8" textLength="38.4" lengthAdjust="spacingAndGlyphs">Time</text><text x="406.7" y="523.2" font-size="17.8" textLength="42.6" lengthAdjust="spacingAndGlyphs">[Myr]</text><g transform="translate(21.3,366.8) rotate(-90)" font-size="18"><text x="-0.8" y="0" textLength="97.6" lengthAdjust="spacingAndGlyphs">Heliocentric</text><text x="107" y="0" textLength="71.4" lengthAdjust="spacingAndGlyphs">distance</text><text x="186.2" y="-1.4" font-size="20" textLength="5.8" lengthAdjust="spacingAndGlyphs">[</text><text x="192.6" y="0" textLength="21.4" lengthAdjust="spacingAndGlyphs">10</text><text x="215" y="-9.9" font-size="13.4" textLength="7.6" lengthAdjust="spacingAndGlyphs">3</text><text x="222.6" y="0" textLength="22.4" lengthAdjust="spacingAndGlyphs">au</text><text x="246.4" y="-1.4" font-size="20" textLength="5.8" lengthAdjust="spacingAndGlyphs">]</text></g><text x="734" y="19" font-size="3.8" stroke="none">A6</text></g>
</svg>
</body></html>
